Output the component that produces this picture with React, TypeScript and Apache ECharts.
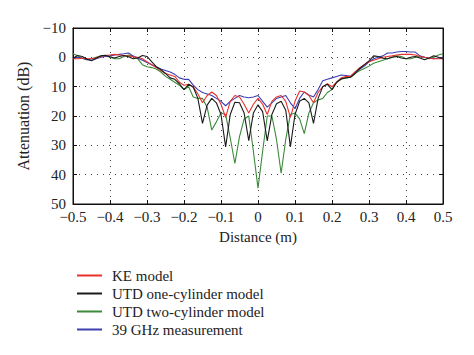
import React, { useEffect, useRef } from "react";
import * as echarts from "echarts";

const distance: number[] = Array.from({ length: 81 }, (_, i) => +(-0.5 + i * 0.0125).toFixed(4));

const keModel: number[] = [
  0.5, 0.5, 0.3, 0.5, 0.5, 0.2, -0.3, -0.6, -0.8, -1, -0.8, -0.6, -0.5, -0.2, 0, 0.5,
  1.5, 2.5, 3.5, 4.5, 5.5, 6, 6.5, 8.5, 9.5, 9.2, 10, 12.5, 15.5, 13, 11.8, 13,
  16, 20.5, 15, 13, 13.5, 16, 19, 16, 14,
  16, 19.5, 15, 13.5, 13, 15, 20.5, 15, 11.5, 11.8, 13, 15.5, 12, 10, 9, 10,
  8.5, 7, 6.5, 6.5, 5, 3.5, 2.5, 1.5, 1, 0.5, 0, -0.3, -0.5, -0.8, -1, -1,
  -1, -0.8, -0.3, 0, 0.3, 0.5, 0.5, 0.5,
];

const utdOneCylinder: number[] = [
  0.3, -0.6, -0.3, 0.6, 1.2, 0.3, -0.5, -0.7, -0.2, 0.2, -0.3, -0.6, -0.2, 0.5, 0.2, -0.6,
  -0.3, 1.5, 3.2, 4.2, 5.5, 7, 7.5, 9, 11, 9.2, 10.2, 14, 22.5, 16.3, 14, 15.5,
  19.5, 30.5, 19.5, 15.3, 15.5, 19, 28.4, 19, 16.2,
  18.5, 28.5, 19.5, 15.8, 15, 18, 30.5, 19.5, 15, 14, 15.5, 22.5, 14, 10, 9.2, 11,
  8.5, 7.3, 7, 6.8, 5.5, 3.8, 2.5, 1.2, -0.5, -0.3, 0.3, 0.5, 0, -0.3, 0.2, 0.5,
  0, -0.3, 0.2, 0.8, 0.2, -0.5, 0, 0.5,
];

const utdTwoCylinder: number[] = [
  -1.2, -0.5, 0.3, 0.8, 0.5, 0, -0.5, -0.5, 0, 0.5, 0.5, -0.3, -0.8, -0.5, 0.5, 2.5,
  3.2, 3.5, 4, 5, 6.5, 7.5, 8.5, 9.5, 11, 10, 13.5, 14, 14, 17, 24.8, 22,
  19, 19.5, 27.5, 36.2, 27, 21, 20, 32, 44.6,
  32, 20, 20, 28, 39.5, 28, 19.5, 19, 21, 26, 19, 15.5, 14.5, 14, 12, 11,
  8.5, 7.5, 7, 6.8, 5.5, 4.5, 3.8, 3, 2, 1.5, 1, 0.5, 0, -0.5, -0.3, 0.5,
  0.5, 0, -0.3, 0, 0.5, 0, -0.8, -1.2,
];

const measurement39GHz: number[] = [
  0.5, 0, 0.3, 0.8, 1, 0.5, 0, -0.3, -0.5, -0.8, -1, -1.2, -1.5, -0.5, 0.3, 1,
  1.8, 2.5, 3.2, 4, 4.5, 5, 5.8, 7, 7.5, 7.5, 9.5, 11, 12, 12.5, 13, 14,
  15, 16.5, 15, 14, 13, 13.5, 13.8, 13.5, 13,
  15, 17, 15.5, 14, 13.5, 13, 15.5, 17.5, 14, 11.8, 12.8, 13.5, 11, 8, 7.5, 7,
  6.5, 6, 6.2, 6.5, 5, 4, 3, 1.5, 0.5, 0, -0.5, -1.5, -1.5, -1.8, -2, -2,
  -1.8, -1.8, -0.5, 0, 0.3, 0.5, 0.3, 0,
];

const seriesNames: string[] = [
  "KE model",
  "UTD one-cylinder model",
  "UTD two-cylinder model",
  "39 GHz measurement",
];
const seriesColors: string[] = ["#e8312c", "#1a1a1a", "#3a8a3a", "#3b3fb0"];

const fmtMinus = (v: number) => (v < 0 ? "\u2212" + String(Math.abs(v)) : String(v));
const FONT = "Liberation Serif";

export default function App() {
  const ref = useRef<HTMLDivElement>(null);
  useEffect(() => {
    if (!ref.current) return;
    const chart = echarts.init(ref.current, undefined, { renderer: "svg" });
    const mk = (idx: number, vals: number[], z: number) => ({
      name: seriesNames[idx],
      type: "line",
      data: distance.map((d, i) => [d, vals[i]]),
      showSymbol: false,
      symbol: "none",
      z,
      color: seriesColors[idx],
      lineStyle: { color: seriesColors[idx], width: 1.1 },
      itemStyle: { color: seriesColors[idx] },
    });
    const splitLine = { show: true, lineStyle: { color: "#444", type: [1, 5] as any, width: 1 } };
    const axisLine = { show: true, onZero: false, lineStyle: { color: "#111" } };
    const axisTick = { show: true, inside: true, length: 4, lineStyle: { color: "#111" } };
    chart.setOption({
      animation: false,
      backgroundColor: "#fff",
      textStyle: { fontFamily: FONT },
      grid: { left: 73, right: 31, top: 28, bottom: 151, show: true, borderColor: "#111", borderWidth: 1 },
      legend: {
        data: seriesNames.map((n, i) => ({ name: n, itemStyle: { color: seriesColors[i] } })),
        orient: "vertical",
        left: 72,
        top: 263,
        itemWidth: 25,
        itemHeight: 2,
        itemGap: 3,
        icon: "rect",
        textStyle: { fontFamily: FONT, fontSize: 15, color: "#222", padding: [0, 0, 0, 5] },
      },
      xAxis: [
        {
          type: "value",
          min: -0.5,
          max: 0.5,
          interval: 0.1,
          name: "Distance (m)",
          nameLocation: "middle",
          nameGap: 25,
          nameTextStyle: { fontFamily: FONT, fontSize: 15, color: "#222" },
          axisLine,
          axisTick,
          axisLabel: {
            fontFamily: FONT,
            fontSize: 15,
            color: "#222",
            margin: 5,
            formatter: (v: number) => fmtMinus(Math.round(v * 10) / 10),
          },
          splitLine,
        },
        {
          type: "value",
          position: "top",
          min: -0.5,
          max: 0.5,
          interval: 0.1,
          axisLine,
          axisTick,
          axisLabel: { show: false },
          splitLine: { show: false },
        },
      ],
      yAxis: [
        {
          type: "value",
          inverse: true,
          min: -10,
          max: 50,
          interval: 10,
          name: "Attenuation (dB)",
          nameLocation: "middle",
          nameGap: 37,
          nameTextStyle: { fontFamily: FONT, fontSize: 16, color: "#222" },
          axisLine,
          axisTick,
          axisLabel: { fontFamily: FONT, fontSize: 15, color: "#222", margin: 7, formatter: (v: number) => fmtMinus(v) },
          splitLine,
        },
        {
          type: "value",
          position: "right",
          inverse: true,
          min: -10,
          max: 50,
          interval: 10,
          axisLine,
          axisTick,
          axisLabel: { show: false },
          splitLine: { show: false },
        },
      ],
      series: [
        mk(2, utdTwoCylinder, 2),
        mk(3, measurement39GHz, 3),
        mk(0, keModel, 4),
        mk(1, utdOneCylinder, 5),
      ],
    });
    return () => chart.dispose();
  }, []);
  return <div ref={ref} style={{ width: 474, height: 355, position: "absolute", left: 0, top: 0 }} />;
}
